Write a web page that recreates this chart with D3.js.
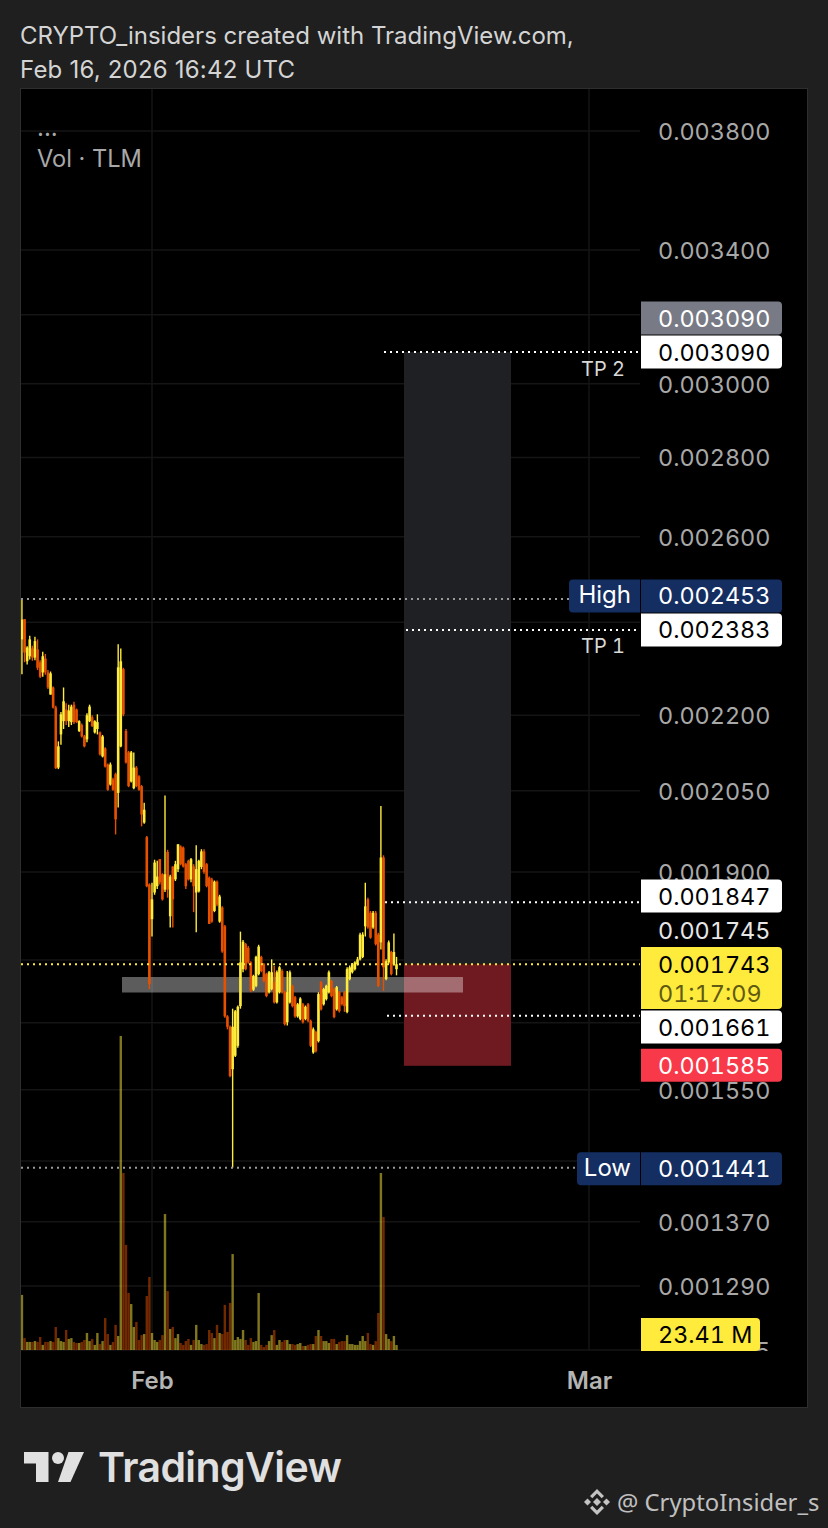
<!DOCTYPE html>
<html>
<head>
<meta charset="utf-8">
<script src="https://cdn.jsdelivr.net/npm/d3@7"></script>
<style>
html, body { margin: 0; padding: 0; background: #1f1f1f; }
svg { display: block; }
text { font-family: Inter, "Noto Sans", sans-serif; }
.num { font-variant-numeric: tabular-nums; }
</style>
</head>
<body>
<script>
// prices are in millionths (1743 = 0.001743), volume in millions
var opens = [2362,2407,2314,2325,2342,2322,2340,2312,2290,2320,
  2290,2243,2258,2216,2095,2161,2188,2212,2188,2186,
  2222,2212,2168,2180,2157,2151,2188,2196,2165,2172,
  2165,2117,2133,2101,2062,2072,2082,2046,2137,2297,
  2168,2125,2068,2055,2095,2078,2059,1990,1963,1878,
  1818,1864,1875,1923,1896,1869,1936,1823,1910,1887,
  1905,1946,1944,1914,1920,1887,1910,1864,1866,1909,
  1937,1914,1890,1887,1832,1883,1814,1838,1806,1660,
  1644,1580,1600,1615,1676,1735,1776,1770,1746,1702,
  1708,1727,1755,1743,1727,1698,1703,1714,1682,1698,
  1732,1698,1651,1682,1708,1690,1660,1656,1679,
  1656,1679,1653,1605,1636,1622,1714,1679,1687,1698,
  1716,1703,1671,1698,1690,1698,1667,1719,1730,1735,
  1743,1751,1755,1806,1852,1829,1804,1829,1792,1779,
  1926,1719,1746,1763,1743,1735];
var closes = [2406,2333,2344,2362,2322,2358,2300,2281,2325,2290,
  2258,2288,2216,2094,2137,2202,2229,2188,2210,2218,
  2186,2186,2188,2157,2137,2200,2218,2178,2188,2186,
  2121,2157,2097,2052,2101,2052,1996,2301,2314,2202,
  2105,2059,2125,2095,2059,2052,2005,2014,1875,1711,
  1852,1917,1892,1882,1852,1896,1869,1892,1852,1914,
  1950,1914,1910,1875,1887,1923,1875,1905,1920,1937,
  1900,1875,1810,1814,1883,1843,1857,1764,1660,1644,
  1570,1644,1668,1675,1746,1780,1735,1746,1700,1724,
  1755,1772,1732,1716,1692,1730,1730,1682,1730,1738,
  1698,1648,1698,1730,1676,1660,1679,1688,1651,
  1675,1653,1615,1640,1607,1695,1671,1703,1708,1730,
  1692,1659,1706,1668,1679,1676,1735,1738,1743,1746,
  1751,1792,1792,1840,1804,1787,1829,1776,1708,1926,
  1738,1748,1779,1727,1763,1743];
var highs = [2455,2407,2347,2370,2348,2368,2362,2316,2335,2330,
  2295,2292,2260,2220,2147,2207,2258,2225,2222,2222,
  2228,2214,2190,2183,2160,2204,2222,2200,2190,2202,
  2167,2160,2135,2103,2105,2075,2085,2351,2342,2300,
  2172,2128,2128,2125,2098,2080,2061,2027,1965,1880,
  1881,1922,1920,1923,1898,2041,1940,1895,1910,1920,
  1950,1948,1946,1916,1922,1925,1914,1948,1922,1941,
  1941,1916,1892,1890,1885,1885,1860,1840,1808,1662,
  1646,1672,1670,1677,1797,1783,1778,1773,1748,1726,
  1757,1775,1757,1745,1729,1732,1751,1740,1733,1740,
  1735,1700,1732,1733,1710,1692,1681,1690,1681,
  1677,1681,1655,1643,1638,1698,1716,1705,1710,1733,
  1718,1705,1708,1700,1692,1700,1738,1741,1745,1748,
  1755,1795,1796,1881,1855,1832,1832,1832,1795,2021,
  1930,1751,1782,1765,1794,1755];
var lows = [2286,2312,2307,2318,2315,2316,2295,2278,2281,2285,
  2255,2243,2214,2092,2092,2140,2172,2180,2176,2180,
  2182,2184,2166,2155,2135,2145,2186,2176,2163,2161,
  2119,2115,2095,2050,2060,2050,1968,2018,2135,2198,
  2103,2057,2066,2053,2057,2050,1983,1988,1873,1703,
  1789,1860,1870,1878,1850,1865,1855,1804,1804,1884,
  1900,1912,1908,1870,1885,1882,1830,1796,1864,1905,
  1897,1873,1810,1812,1830,1840,1812,1762,1658,1640,
  1568,1441,1598,1612,1672,1730,1733,1744,1698,1700,
  1706,1725,1730,1714,1690,1696,1701,1680,1680,1696,
  1696,1646,1646,1680,1674,1658,1658,1654,1649,
  1654,1651,1613,1603,1605,1620,1669,1677,1685,1696,
  1690,1657,1669,1666,1677,1667,1665,1717,1728,1733,
  1741,1749,1753,1789,1802,1785,1802,1774,1706,1767,
  1700,1717,1744,1725,1741,1725];
var volumes = [259,56,38,38,38,42,38,61,24,38,
  38,42,38,108,56,42,38,94,52,56,
  38,33,33,38,47,80,42,52,24,80,
  28,42,150,75,24,38,118,66,1476,832,
  494,268,216,108,132,47,70,75,254,343,
  80,47,38,47,70,639,277,99,108,56,
  75,33,24,42,52,24,47,118,47,28,
  24,28,94,80,56,118,80,75,212,85,
  221,451,47,61,52,94,47,24,56,38,
  42,268,24,14,24,42,70,94,24,47,
  38,47,47,28,28,24,28,33,19,
  19,24,28,28,66,94,66,42,42,33,
  52,52,28,38,42,42,70,28,28,24,
  24,42,66,42,80,28,24,42,174,832,
  625,75,52,42,66,23.41];

var gridPrices = [3800,3400,3200,3000,2800,2600,2400,2200,2050,1900,1750,1650,1550,1450,1370,1290,1215];
var axisPrices = [3800,3400,3000,2800,2600,2200,2050,1900,1550,1370,1290,1215];
var monthTicks = [new Date(Date.UTC(2026,1,1)), new Date(Date.UTC(2026,2,1))];
var firstCandle = new Date(Date.UTC(2026,0,23,16));

var lastPrice = 1743, tp2 = 3090, tp1 = 2383, entryUp = 1847, entryDown = 1661, stop = 1585, high = 2453, low = 1441;

var w = 828, h = 1528;
var plotLeft = 21, plotRight = 640, plotTop = 89, volBase = 1350;
var labelSize = 23.4;

var green = "#ffeb3b", red = "#e65100";

var svg = d3.select("body").append("svg")
    .attr("width", w)
    .attr("height", h);

var x = d3.scaleUtc()
    .domain(monthTicks)
    .range([152, 589]);

var y = d3.scaleLog()
    .domain([3800, 1290])
    .range([131, 1286]);

var yVol = d3.scaleLinear()
    .domain([0, 1476])
    .range([volBase, 1036]);

var fmt = function(d) { return (d / 1e6).toFixed(6); };

var candles = opens.map(function(o, i) {
  return {t: d3.utcHour.offset(firstCandle, i * 4), o: o, h: highs[i], l: lows[i], c: closes[i], v: volumes[i]};
});

svg.append("text").attr("x", 20).attr("y", 44).attr("font-size", 24).attr("fill", "#d4d4d4")
    .text("CRYPTO_insiders created with TradingView.com,");
svg.append("text").attr("x", 20).attr("y", 78).attr("font-size", 24).attr("letter-spacing", 0.2).attr("fill", "#d4d4d4")
    .text("Feb 16, 2026 16:42 UTC");

svg.append("rect")
    .attr("x", 20.5).attr("y", 88.5)
    .attr("width", 787).attr("height", 1319)
    .attr("fill", "#000").attr("stroke", "#2e2e2e");

var defs = svg.append("defs");
defs.append("clipPath").attr("id", "axisClip")
    .append("rect").attr("x", -20).attr("y", plotTop).attr("width", 160).attr("height", volBase - plotTop);
defs.append("clipPath").attr("id", "plotClip")
    .append("rect").attr("x", plotLeft).attr("y", plotTop).attr("width", plotRight - plotLeft).attr("height", volBase - plotTop);

// grid
svg.append("g").selectAll("line").data(gridPrices).enter().append("line")
    .attr("x1", plotLeft).attr("x2", plotRight)
    .attr("y1", function(d) { return Math.min(y(d), volBase); })
    .attr("y2", function(d) { return Math.min(y(d), volBase); })
    .attr("stroke", "#151515").attr("stroke-width", 1.5);

svg.append("g").selectAll("line").data(monthTicks).enter().append("line")
    .attr("x1", function(d) { return x(d); }).attr("x2", function(d) { return x(d); })
    .attr("y1", plotTop).attr("y2", volBase)
    .attr("stroke", "#151515").attr("stroke-width", 1.5);

// long position box
var boxX = 404, boxW = 107;
svg.append("rect").attr("x", boxX).attr("y", y(tp2)).attr("width", boxW)
    .attr("height", y(lastPrice) - y(tp2)).attr("fill", "#1f2023");
svg.append("rect").attr("x", boxX).attr("y", y(lastPrice)).attr("width", boxW)
    .attr("height", y(stop) - y(lastPrice)).attr("fill", "#6e1a20");

// support band
svg.append("rect").attr("x", 122).attr("y", 977).attr("width", 341).attr("height", 15.5)
    .attr("fill", "#fff").attr("fill-opacity", 0.36);

// volume bars
svg.append("g").attr("clip-path", "url(#plotClip)").selectAll("rect").data(candles).enter().append("rect")
    .attr("x", function(d) { return x(d.t) - 1.2; })
    .attr("width", 2.4)
    .attr("y", function(d) { return yVol(d.v); })
    .attr("height", function(d) { return volBase - yVol(d.v); })
    .attr("fill", function(d) { return d.c >= d.o ? green : red; })
    .attr("fill-opacity", 0.5);

// candles
var cg = svg.append("g").attr("clip-path", "url(#plotClip)");
cg.selectAll(".wick").data(candles).enter().append("line")
    .attr("class", "wick")
    .attr("x1", function(d) { return x(d.t); })
    .attr("x2", function(d) { return x(d.t); })
    .attr("y1", function(d) { return y(d.h); })
    .attr("y2", function(d) { return y(d.l); })
    .attr("stroke", function(d) { return d.c >= d.o ? green : red; })
    .attr("stroke-width", 1.4);
cg.selectAll(".body").data(candles).enter().append("rect")
    .attr("class", "body")
    .attr("x", function(d) { return x(d.t) - 1.3; })
    .attr("width", 2.6)
    .attr("y", function(d) { return y(Math.max(d.o, d.c)); })
    .attr("height", function(d) { return Math.max(1, Math.abs(y(d.o) - y(d.c))); })
    .attr("fill", function(d) { return d.c >= d.o ? green : red; });

// dotted levels
var levels = [
  {v: high, x1: plotLeft, x2: 569, c: "#9a9a9a"},
  {v: low, x1: plotLeft, x2: 577, c: "#9a9a9a"},
  {v: lastPrice, x1: plotLeft, x2: plotRight, c: "#ffeb3b"},
  {v: tp2, x1: 384, x2: plotRight, c: "#fff"},
  {v: tp1, x1: 406, x2: plotRight, c: "#fff"},
  {v: entryUp, x1: 385, x2: plotRight, c: "#fff"},
  {v: entryDown, x1: 387, x2: plotRight, c: "#fff"}
];
svg.append("g").selectAll("line").data(levels).enter().append("line")
    .attr("x1", function(d) { return d.x1; }).attr("x2", function(d) { return d.x2; })
    .attr("y1", function(d) { return y(d.v); }).attr("y2", function(d) { return y(d.v); })
    .attr("stroke", function(d) { return d.c; })
    .attr("stroke-width", 2)
    .attr("stroke-dasharray", "2,4");

// price axis
var axisY = svg.append("g")
    .attr("transform", "translate(658,1)")
    .attr("clip-path", "url(#axisClip)")
    .call(d3.axisRight(y).tickValues(axisPrices).tickFormat(fmt).tickSize(0).tickPadding(0));
axisY.select(".domain").remove();
axisY.selectAll("text")
    .attr("class", "num")
    .attr("font-size", labelSize)
    .style("font-family", "Inter, sans-serif")
    .attr("fill", "#a8a8a8");

svg.append("text").attr("class", "num").attr("x", 658).attr("y", 939).attr("font-size", labelSize).attr("fill", "#e6e6e6").text(fmt(1745));

// time axis
var axisX = svg.append("g")
    .attr("transform", "translate(0,1372)")
    .call(d3.axisBottom(x).tickValues(monthTicks).tickFormat(d3.utcFormat("%b")).tickSize(0).tickPadding(0));
axisX.select(".domain").remove();
axisX.selectAll("text")
    .attr("font-size", 24)
    .attr("font-weight", 600)
    .style("font-family", "Inter, sans-serif")
    .attr("fill", "#b4b4b4")
    .attr("dy", "0.72em");

// legend
svg.append("text").attr("x", 37).attr("y", 136).attr("font-size", 24).attr("fill", "#a8a8a8").text("...");
svg.append("text").attr("x", 37).attr("y", 167).attr("font-size", 23.6).attr("fill", "#a8a8a8").text("Vol · TLM");

// price tags
function tag(x0, cy, width, height, fill, label, color) {
  var x1 = x0 + width, t = cy - height / 2, b = cy + height / 2, r = 4;
  svg.append("path")
      .attr("d", "M" + x0 + "," + t + "H" + (x1 - r) + "Q" + x1 + "," + t + " " + x1 + "," + (t + r) +
        "V" + (b - r) + "Q" + x1 + "," + b + " " + (x1 - r) + "," + b + "H" + x0 + "Z")
      .attr("fill", fill);
  if (label) {
    svg.append("text").attr("class", "num").attr("x", x0 + 17).attr("y", cy + 8.5)
        .attr("font-size", labelSize).attr("fill", color).text(label);
  }
}

tag(641, y(tp2) - 34, 141, 33, "#787b86", fmt(tp2), "#fff");
tag(641, y(tp2), 141, 33, "#fff", fmt(tp2), "#000");
tag(641, y(high) - 3, 141, 33, "#142e61", fmt(high), "#fff");
tag(641, y(tp1), 141, 33, "#fff", fmt(tp1), "#000");
tag(641, 896, 141, 33, "#fff", fmt(entryUp), "#000");
tag(641, 978, 141, 62, "#ffeb3b", null);
svg.append("text").attr("class", "num").attr("x", 658).attr("y", 973).attr("font-size", labelSize).attr("fill", "#000").text(fmt(lastPrice));
svg.append("text").attr("class", "num").attr("x", 658).attr("y", 1002).attr("font-size", labelSize).attr("fill", "#5f5a14").text("01:17:09");
tag(641, 1027, 141, 33, "#fff", fmt(entryDown), "#000");
tag(641, y(stop) - 0.5, 141, 33, "#f7394a", fmt(stop), "#fff");
tag(641, y(low) + 1, 141, 33, "#142e61", fmt(low), "#fff");
tag(641, 1334.5, 119, 33, "#ffeb3b", volumes[volumes.length - 1].toFixed(2) + " M", "#000");

// side tags
function sideTag(x0, cy, label) {
  var t = cy - 16.5, r = 4;
  svg.append("path")
      .attr("d", "M640," + t + "H" + (x0 + r) + "Q" + x0 + "," + t + " " + x0 + "," + (t + r) +
        "V" + (t + 33 - r) + "Q" + x0 + "," + (t + 33) + " " + (x0 + r) + "," + (t + 33) + "H640Z")
      .attr("fill", "#142e61");
  svg.append("text").attr("x", 631).attr("y", cy + 7).attr("text-anchor", "end")
      .attr("font-size", 24).attr("fill", "#fff").text(label);
}
sideTag(569, y(high) - 3, "High");
sideTag(577, y(low) + 1, "Low");

// TP texts
svg.append("text").attr("class", "num").attr("x", 625).attr("y", y(tp2) + 24).attr("text-anchor", "end")
    .attr("font-size", 20).attr("fill", "#d8d8d8").text("TP 2");
svg.append("text").attr("class", "num").attr("x", 625).attr("y", y(tp1) + 23).attr("text-anchor", "end")
    .attr("font-size", 20).attr("fill", "#d8d8d8").text("TP 1");

// TradingView logo
var logo = svg.append("g").attr("fill", "#e0e0e0");
logo.append("path").attr("d", "M24,1452H48.5V1482H36V1463.5H24Z");
logo.append("circle").attr("cx", 58).attr("cy", 1458).attr("r", 6);
logo.append("path").attr("d", "M68.5,1452H84L70.5,1482H58Z");
svg.append("text").attr("x", 98).attr("y", 1482).attr("font-size", 41).attr("font-weight", 600)
    .attr("letter-spacing", -0.6).attr("fill", "#e0e0e0").text("TradingView");

// watermark
var wm = svg.append("g").attr("transform", "translate(597,1502)").attr("fill", "#c4c4c4");
wm.append("path").attr("d", "M-4,0L0,-4L4,0L0,4Z");
wm.append("path").attr("d", "M-13,0L-9.5,-3.5L-6,0L-9.5,3.5Z");
wm.append("path").attr("d", "M13,0L9.5,-3.5L6,0L9.5,3.5Z");
wm.append("path").attr("d", "M0,-13L7,-6L4.7,-3.8L0,-8.5L-4.7,-3.8L-7,-6Z");
wm.append("path").attr("d", "M0,13L7,6L4.7,3.8L0,8.5L-4.7,3.8L-7,6Z");
svg.append("text").attr("x", 617).attr("y", 1511).attr("font-size", 23.8)
    .style("font-family", "Noto Sans, sans-serif").attr("fill", "#c0c0c0").text("@ CryptoInsider_s");
</script>
</body>
</html>
